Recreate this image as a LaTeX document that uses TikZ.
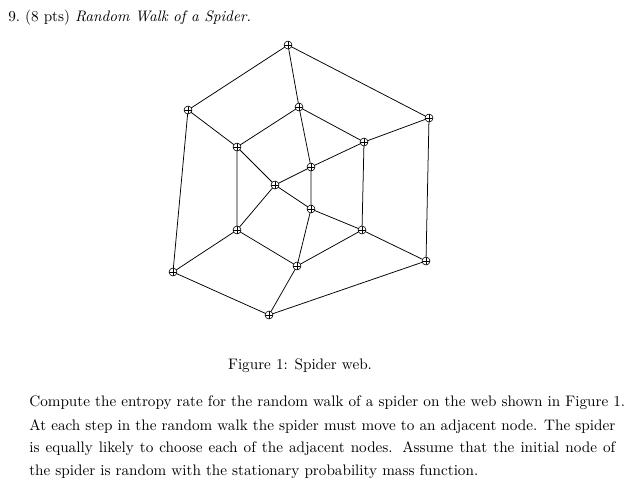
\documentclass[tikz,border=0pt]{standalone}
\begin{document}
\begin{tikzpicture}[x=0.658pt,y=-0.658pt,
 v/.style={circle,draw,inner sep=0pt,minimum size=5.2pt,fill=white,
  path picture={\draw[line width=0.3pt] (path picture bounding box.north)--(path picture bounding box.south) (path picture bounding box.west)--(path picture bounding box.east);}},
 e/.style={line width=0.5pt},
 txt/.style={anchor=north west,inner sep=0pt,font=\fontsize{10}{14.8}\selectfont}]
\useasboundingbox (0,0) rectangle (628,488);
\foreach \n/\x/\y in {A/288/45,B/429/118,C/426/261,D/269/315,E/173/272,F/188/110,
 G/299/107,H/364/142,I/362/230,J/297/266,K/237/230,L/237/147,M/311/167,N/311/209,O/275/185}
 \coordinate (\n) at (\x,\y);
\draw[e] (A)--(B)--(C)--(D)--(E)--(F)--(A);
\draw[e] (A)--(G) (B)--(H) (C)--(I) (D)--(J) (E)--(K) (F)--(L);
\draw[e] (G)--(H)--(I)--(J)--(K)--(L)--(G);
\draw[e] (G)--(M) (H)--(M) (M)--(O) (M)--(N) (L)--(O) (O)--(N) (K)--(O) (N)--(I) (N)--(J);
\foreach \n in {A,B,C,D,E,F,G,H,I,J,K,L,M,N,O} \node[v] at (\n) {};
\node[txt] (h) at (8,10) {9.\ (8 pts) \textit{Random Walk of a Spider.}};
\node[anchor=base,inner sep=0pt] (cap) at (300,369) {Figure 1: Spider web.};
\node[txt] (p1) at (29,395) {Compute the entropy rate for the random walk of a spider on the web shown in Figure 1.};
\node[txt,text width=586*0.658pt,align=justify] (p2) at (29,419) {At each step in the random walk the spider must move to an adjacent node. The spider is equally likely to choose each of the adjacent nodes. Assume that the initial node of the spider is random with the stationary probability mass function.};
\end{tikzpicture}
\end{document}
